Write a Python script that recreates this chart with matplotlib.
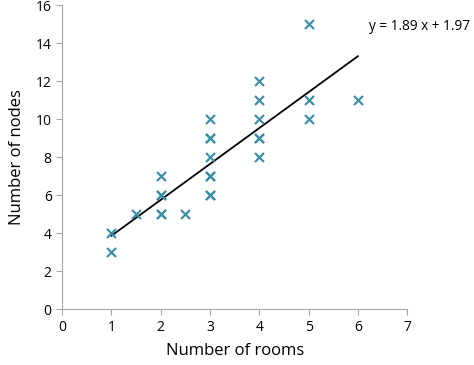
import numpy as np
import matplotlib.pyplot as plt

plt.rcParams['font.family'] = ['Open Sans', 'DejaVu Sans']

rooms = [1, 1, 1.5, 2, 2, 2, 2, 2, 2.5, 3, 3, 3, 3, 3, 3, 3, 3,
         4, 4, 4, 4, 4, 4, 5, 5, 5, 6]
nodes = [4, 3, 5, 7, 6, 6, 5, 5, 5, 10, 9, 9, 8, 7, 7, 6, 6,
         12, 11, 10, 9, 9, 8, 15, 11, 10, 11]
slope, intercept = 1.89, 1.97
teal = '#348ca5'
grey = '#a6a6a6'

fig = plt.figure(figsize=(4.74, 3.65), dpi=100)
ax = fig.add_axes([0.131, 0.153, 0.728, 0.833])

ax.scatter(rooms, nodes, marker='x', s=42, color=teal, linewidths=1.5, zorder=3)
xf = np.array([min(rooms), max(rooms)])
ax.plot(xf, slope * xf + intercept, color='black', lw=1.3, zorder=2)

ax.text(7.25, 14.85, f"y = {slope} x + {intercept}", ha='center', va='center',
        fontsize=9.8, clip_on=False)

ax.set_xlim(0, 7)
ax.set_ylim(0, 16)
ax.set_xticks(range(0, 8))
ax.set_yticks(range(0, 17, 2))
for s in ['top', 'right']:
    ax.spines[s].set_visible(False)
for s in ['left', 'bottom']:
    ax.spines[s].set_color(grey)
ax.tick_params(colors=grey, labelcolor='black', labelsize=10, length=4)
ax.set_xlabel("Number of rooms", fontsize=12, labelpad=6)
ax.set_ylabel("Number of nodes", fontsize=12, labelpad=8)

fig.savefig('out.png', dpi=100)
